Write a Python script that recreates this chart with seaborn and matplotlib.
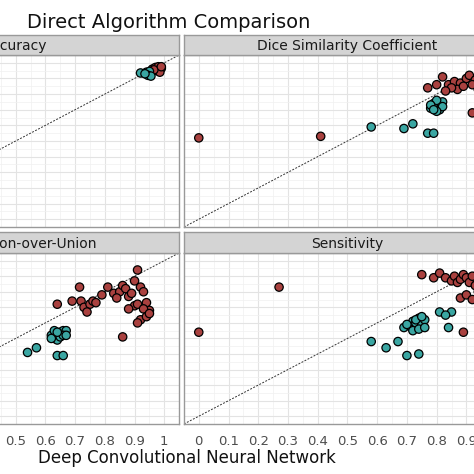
import matplotlib
matplotlib.use("Agg")
import matplotlib.pyplot as plt
import seaborn as sns
import pandas as pd
import numpy as np

sns.set_style("white")
plt.rcParams['font.family'] = ['DejaVu Sans']

RED = "#a9413f"
TEAL = "#3aa6a2"

# Accuracy
acc_red_x = [0.96, 0.97, 0.98, 0.99, 0.975, 0.985, 0.965, 0.99]
acc_red_y = [0.96, 0.97, 0.975, 0.965, 0.95, 0.94, 0.955, 0.975]
acc_teal_x = [0.92, 0.94, 0.95, 0.945, 0.955, 0.935]
acc_teal_y = [0.935, 0.94, 0.945, 0.92, 0.915, 0.93]

# Dice
dsc_red_x = [0.0, 0.41, 0.77, 0.82, 0.80, 0.84, 0.86, 0.88, 0.87, 0.90, 0.91, 0.93, 0.95, 0.97, 0.89, 0.92, 0.94, 0.96, 0.85, 0.83, 0.99, 0.92]
dsc_red_y = [0.52, 0.53, 0.84, 0.91, 0.86, 0.86, 0.88, 0.87, 0.83, 0.90, 0.92, 0.89, 0.91, 0.88, 0.85, 0.86, 0.83, 0.85, 0.84, 0.82, 0.87, 0.68]
dsc_teal_x = [0.58, 0.69, 0.72, 0.77, 0.79, 0.78, 0.80, 0.81, 0.82, 0.79, 0.80, 0.81, 0.78, 0.82, 0.80, 0.79]
dsc_teal_y = [0.59, 0.58, 0.61, 0.55, 0.55, 0.71, 0.72, 0.74, 0.75, 0.74, 0.76, 0.70, 0.73, 0.72, 0.69, 0.70]

# IoU
iou_red_x = [0.64, 0.69, 0.715, 0.72, 0.73, 0.75, 0.76, 0.74, 0.77, 0.79, 0.81, 0.83, 0.85, 0.86, 0.87, 0.84, 0.88, 0.89, 0.90, 0.91, 0.92, 0.90, 0.93, 0.94, 0.95, 0.92, 0.91, 0.93, 0.88, 0.86, 0.94, 0.91, 0.95]
iou_red_y = [0.72, 0.74, 0.83, 0.74, 0.70, 0.72, 0.74, 0.67, 0.73, 0.78, 0.83, 0.79, 0.80, 0.84, 0.82, 0.76, 0.77, 0.79, 0.87, 0.94, 0.83, 0.71, 0.80, 0.73, 0.68, 0.62, 0.72, 0.69, 0.69, 0.51, 0.64, 0.60, 0.66]
iou_teal_x = [0.54, 0.57, 0.62, 0.63, 0.64, 0.65, 0.66, 0.67, 0.63, 0.64, 0.65, 0.66, 0.62, 0.64, 0.67, 0.64, 0.66]
iou_teal_y = [0.41, 0.44, 0.52, 0.50, 0.53, 0.54, 0.55, 0.55, 0.55, 0.49, 0.51, 0.52, 0.50, 0.54, 0.52, 0.39, 0.39]

# Sensitivity
sen_red_x = [0.0, 0.27, 0.75, 0.79, 0.81, 0.83, 0.85, 0.86, 0.87, 0.88, 0.89, 0.90, 0.91, 0.92, 0.93, 0.95, 0.97, 0.88, 0.90, 0.92, 0.94, 0.96, 0.89]
sen_red_y = [0.54, 0.83, 0.91, 0.89, 0.92, 0.89, 0.87, 0.90, 0.86, 0.88, 0.91, 0.89, 0.86, 0.90, 0.84, 0.88, 0.86, 0.76, 0.78, 0.75, 0.80, 0.77, 0.54]
sen_teal_x = [0.58, 0.63, 0.67, 0.70, 0.74, 0.69, 0.71, 0.72, 0.73, 0.74, 0.75, 0.76, 0.72, 0.74, 0.76, 0.70, 0.73, 0.75, 0.81, 0.85, 0.84, 0.83]
sen_teal_y = [0.48, 0.44, 0.48, 0.39, 0.40, 0.57, 0.58, 0.61, 0.60, 0.63, 0.59, 0.62, 0.55, 0.56, 0.57, 0.59, 0.62, 0.64, 0.67, 0.67, 0.57, 0.65]

panels = [
    ("Accuracy", acc_red_x, acc_red_y, acc_teal_x, acc_teal_y, [-0.312, 0.521, 0.690, 0.363], None),
    ("Dice Similarity Coefficient", dsc_red_x, dsc_red_y, dsc_teal_x, dsc_teal_y, [0.388, 0.521, 0.690, 0.363], None),
    ("Intersection-over-Union", iou_red_x, iou_red_y, iou_teal_x, iou_teal_y, [-0.312, 0.1055, 0.690, 0.361], (0.5, 1.0)),
    ("Sensitivity", sen_red_x, sen_red_y, sen_teal_x, sen_teal_y, [0.388, 0.1055, 0.690, 0.361], (0.0, 0.9)),
]

fig = plt.figure(figsize=(4.74, 4.74), dpi=100)
lim = (-0.05, 1.05)
ticks = [round(0.1 * i, 1) for i in range(11)]
for name, rx, ry, tx, ty, pos, shown in panels:
    ax = fig.add_axes(pos)
    df = pd.DataFrame({"x": rx + tx, "y": ry + ty,
                       "g": ["r"] * len(rx) + ["t"] * len(tx)})
    sns.scatterplot(data=df, x="x", y="y", hue="g", palette={"r": RED, "t": TEAL},
                    edgecolor="black", linewidth=0.9, s=36, legend=False, ax=ax, zorder=3)
    ax.plot(lim, lim, ls=(0, (2, 1.5)), color="#333333", lw=0.7, zorder=2)
    ax.set_xlim(lim); ax.set_ylim(lim)
    ax.set_xticks(ticks); ax.set_yticks(ticks)
    ax.set_xticks([0.05 + 0.1 * i for i in range(10)], minor=True)
    ax.set_yticks([0.05 + 0.1 * i for i in range(10)], minor=True)
    ax.grid(True, which="major", color="#e3e3e3", lw=0.8)
    ax.grid(True, which="minor", color="#f0f0f0", lw=0.5)
    ax.set_axisbelow(True)
    ax.set_xlabel(""); ax.set_ylabel("")
    ax.set_yticklabels([])
    if shown:
        labels = [(("1" if t == 1 else ("0" if t == 0 else f"{t:g}"))
                   if shown[0] - 1e-9 <= t <= shown[1] + 1e-9 else "") for t in ticks]
        ax.set_xticklabels(labels, fontsize=9.5, color="#4d4d4d")
    else:
        ax.set_xticklabels([])
    ax.tick_params(which="both", length=0, pad=8)
    for s in ax.spines.values():
        s.set_color("#999999"); s.set_linewidth(1)
    sh = 0.043
    sax = fig.add_axes([pos[0], pos[1] + pos[3], pos[2], sh])
    sax.set_facecolor("#d4d4d4")
    sax.set_xticks([]); sax.set_yticks([])
    for s in sax.spines.values():
        s.set_color("#999999"); s.set_linewidth(1)
    sax.text(0.5, 0.45, name, ha="center", va="center", fontsize=10, color="#1a1a1a",
             transform=sax.transAxes)

fig.text(0.057, 0.972, "Direct Algorithm Comparison", fontsize=14, ha="left", va="top", color="#111111")
fig.text(0.395, 0.033, "Deep Convolutional Neural Network", fontsize=12, ha="center", va="center", color="#111111")
fig.savefig("out.png", dpi=100)
